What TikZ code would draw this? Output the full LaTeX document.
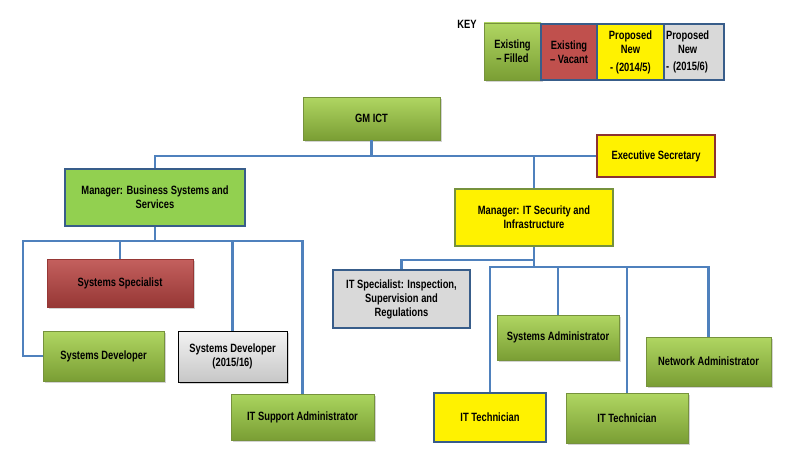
\documentclass[tikz,border=0pt]{standalone}
\usepackage{fontspec}
\setmainfont{Liberation Sans}[FakeStretch=0.78]
\usepackage{tikz}
\usetikzlibrary{shadows}
\usepackage{xcolor}
\definecolor{linkblue}{RGB}{79,129,189}
\definecolor{navyline}{RGB}{56,93,138}
\definecolor{oliveline}{RGB}{118,146,60}
\definecolor{greentop}{RGB}{176,214,98}
\definecolor{greenbot}{RGB}{122,158,52}
\definecolor{limegreen}{RGB}{146,208,80}
\definecolor{redtop}{RGB}{196,96,94}
\definecolor{redbot}{RGB}{150,55,53}
\definecolor{vacantred}{RGB}{192,80,77}
\definecolor{brownline}{RGB}{140,50,50}
\definecolor{paleGrey}{RGB}{217,217,217}

\begin{document}
\begin{tikzpicture}[x=1pt, y=-1pt,
  font=\fontsize{12}{14}\selectfont\bfseries,
  box/.style={align=center, inner sep=2pt},
  filled/.style={box, draw=oliveline, top color=greentop, bottom color=greenbot,
    drop shadow={shadow xshift=1.5pt, shadow yshift=-1.5pt, opacity=0.35}},
  vacant/.style={box, draw=redbot, top color=redtop, bottom color=redbot,
    drop shadow={shadow xshift=1.5pt, shadow yshift=-1.5pt, opacity=0.35}},
  newpost/.style={box, fill=yellow, draw=navyline, line width=2pt},
  futurepost/.style={box, fill=paleGrey, draw=navyline, line width=2pt},
  link/.style={draw=linkblue, line width=2.4pt}]
  \useasboundingbox (0,0) rectangle (787,452);

  % Key
  \node (keytitle) at (467,24) {KEY};
  \node[filled, minimum width=57pt, minimum height=57pt] (kfill) at (512.5,51.5) {Existing\\– Filled};
  \node[box, fill=vacantred, draw=navyline, line width=2pt, minimum width=56pt, minimum height=56pt] (kvac) at (569,52) {Existing\\– Vacant};
  \node[newpost, minimum width=67pt, minimum height=56pt] (knew) at (630.5,52) {Proposed\\New\\[4pt]- (2014/5)};
  \node[futurepost, minimum width=60pt, minimum height=56pt, text width=56pt, align=left] (kfut) at (694,52) {Proposed\\\ \ \ New\\[3pt]- (2015/6)};

  % Top level
  \node[filled, minimum width=137pt, minimum height=43pt] (gm) at (371.5,118.5) {GM ICT};
  \node[box, fill=yellow, draw=brownline, line width=2pt, minimum width=118pt, minimum height=42pt] (exsec) at (656,156) {Executive Secretary};
  \node[box, fill=limegreen, draw=navyline, line width=2pt, minimum width=180pt, minimum height=57pt] (mbss) at (155,197.5) {Manager: Business Systems and\\Services};
  \node[box, fill=yellow, draw=oliveline, line width=2pt, minimum width=158pt, minimum height=57pt] (mits) at (534,217.5) {Manager: IT Security and\\Infrastructure};

  % Business systems branch
  \node[vacant, minimum width=146pt, minimum height=48pt] (sysspec) at (120,283) {Systems Specialist};
  \node[filled, minimum width=121pt, minimum height=50pt] (sysdev) at (103.5,356) {Systems Developer};
  \node[box, draw=black, top color=white!95!black, bottom color=black!22, minimum width=109pt, minimum height=51pt,
    drop shadow={shadow xshift=1.5pt, shadow yshift=-1.5pt, opacity=0.35}] (sysdevnew) at (232.5,356.5) {Systems Developer\\(2015/16)};
  \node[filled, top color=greentop!80!limegreen, minimum width=143pt, minimum height=46pt] (supadmin) at (302.5,417) {IT Support Administrator};

  % IT security branch
  \node[futurepost, minimum width=137pt, minimum height=58pt] (itspec) at (401.5,299) {IT Specialist: Inspection,\\Supervision and\\Regulations};
  \node[filled, minimum width=122pt, minimum height=45pt] (sysadmin) at (558,337.5) {Systems Administrator};
  \node[filled, minimum width=125pt, minimum height=49pt] (netadmin) at (708.5,361.5) {Network Administrator};
  \node[newpost, minimum width=112pt, minimum height=49pt] (techa) at (490,417.5) {IT Technician};
  \node[filled, minimum width=122pt, minimum height=50pt] (techb) at (627,418) {IT Technician};

  % Connectors
  \coordinate (topbus) at (372,156);
  \coordinate (busleft) at (23,241);
  \coordinate (busright) at (490,267);
  \draw[link] (gm.south) |- (exsec.west);
  \draw[link] (mbss.north) |- (topbus);
  \draw[link] (mits.north) -- (mits.north |- topbus);

  \draw[link] (mbss.south) -- (mbss.south |- busleft);
  \draw[link] (sysdev.west) -| (busleft) -- (supadmin.north |- busleft) -- (supadmin.north);
  \draw[link] (sysspec.north) -- (sysspec.north |- busleft);
  \draw[link] (sysdevnew.north) -- (sysdevnew.north |- busleft);

  \draw[link] (mits.south) -- ++(0,13) -| (itspec.north);
  \draw[link] (mits.south) -- (mits.south |- busright);
  \draw[link] (techa.north) -- (busright) -- (netadmin.north |- busright) -- (netadmin.north);
  \draw[link] (sysadmin.north) -- (sysadmin.north |- busright);
  \draw[link] (techb.north) -- (techb.north |- busright);
\end{tikzpicture}
\end{document}
